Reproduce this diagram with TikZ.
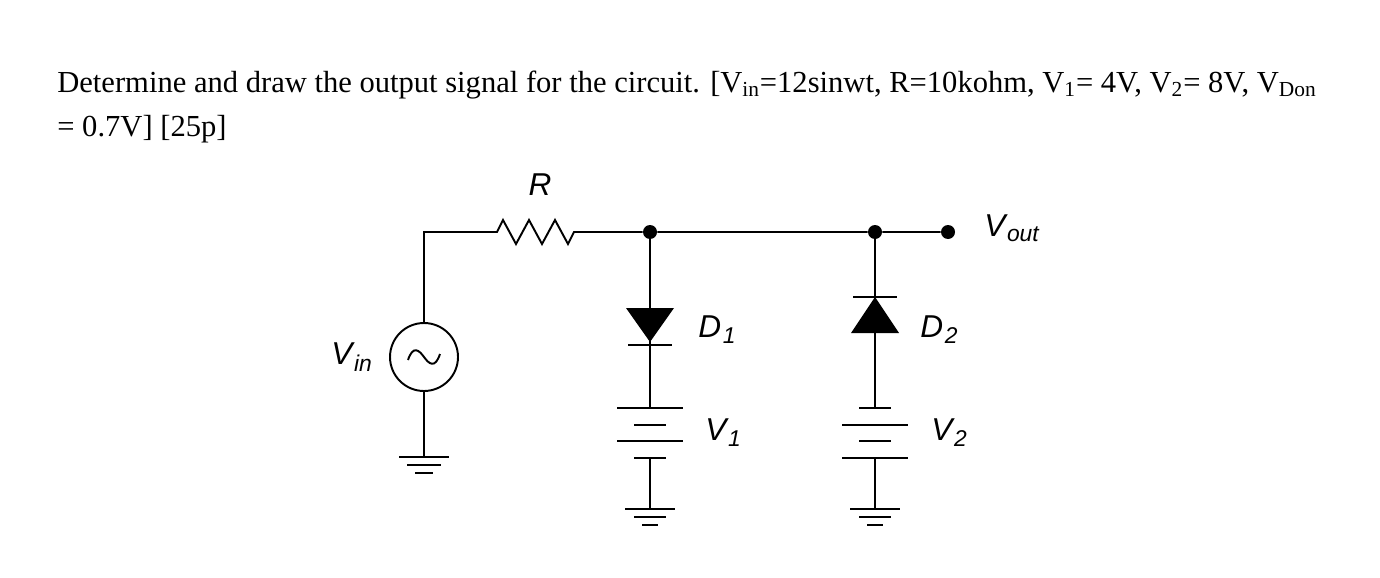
\documentclass[tikz,border=0pt]{standalone}
\usepackage{fontspec}
\setmainfont{Liberation Serif}
\newfontfamily\lbl{Liberation Sans}
\begin{document}
\begin{tikzpicture}[x=0.02cm,y=-0.02cm,
  wire/.style={line width=1.1pt,black},
  dot/.style={circle,fill=black,inner sep=0pt,minimum size=0.28cm},
  lab/.style={font=\lbl\itshape\fontsize{18}{21}\selectfont,inner sep=0pt},
  sub/.style={font=\lbl\itshape\fontsize{13}{15}\selectfont,inner sep=0pt,anchor=north west},
  title/.style={font=\fontsize{17.4}{20}\selectfont,anchor=base west,inner sep=0pt}]
\useasboundingbox (0,0) rectangle (1380,578);
\node[title] (t1) at (57,92) {Determine and draw the output signal for the circuit. [V\textsubscript{in}=12sinwt, R=10kohm, V\textsubscript{1}= 4V, V\textsubscript{2}= 8V, V\textsubscript{Don}};
\node[title] (t2) at (57,136) {= 0.7V] [25p]};
% nodes
\coordinate (c) at (424,232);
\node[dot] (n1) at (650,232) {};
\node[dot] (n2) at (875,232) {};
\node[dot] (out) at (948,232) {};
\node[draw,circle,line width=1.1pt,minimum size=1.36cm,inner sep=0pt] (src) at (424,357) {};
\draw[line width=1.1pt] (408,360) .. controls (413,345) and (419,350) .. (424,357) .. controls (429,364) and (435,369) .. (440,354);
% top wire with resistor
\draw[wire] (src.north) -- (c) -- (497,232) -- (503,220) -- (516,244) -- (529,220) -- (542,244) -- (555,220) -- (568,244) -- (574,232) -- (n1) -- (n2) -- (out);
% source ground
\draw[wire] (src.south) -- (424,457);
\draw[wire] (399,457) -- (449,457) (407,465) -- (441,465) (415,473) -- (433,473);
% D1 and V1
\draw[wire] (n1) -- (650,408);
\fill (626,308) -- (674,308) -- (650,342) -- cycle;
\draw[wire] (628,345) -- (672,345);
\draw[wire] (617,408) -- (683,408) (634,425) -- (666,425) (617,441) -- (683,441) (634,458) -- (666,458);
\draw[wire] (650,458) -- (650,509);
\draw[wire] (625,509) -- (675,509) (634,517) -- (666,517) (642,525) -- (658,525);
% D2 and V2
\draw[wire] (n2) -- (875,408);
\fill (851,333) -- (899,333) -- (875,297) -- cycle;
\draw[wire] (853,297) -- (897,297);
\draw[wire] (859,408) -- (891,408) (842,425) -- (908,425) (859,441) -- (891,441) (842,458) -- (908,458);
\draw[wire] (875,458) -- (875,509);
\draw[wire] (850,509) -- (900,509) (859,517) -- (891,517) (867,525) -- (883,525);
% labels
\node[lab] (lR) at (540,185) {R};
\node[lab,anchor=west] (lout) at (984,226) {V};
\node[sub] at (lout.south east) [xshift=0.5pt,yshift=6pt] {out};
\node[lab,anchor=west] (lin) at (331,354) {V};
\node[sub] at (lin.south east) [xshift=0.5pt,yshift=6pt] {in};
\node[lab,anchor=west] (lD1) at (698,327) {D};
\node[sub] at (lD1.south east) [xshift=0.5pt,yshift=6pt] {1};
\node[lab,anchor=west] (lV1) at (705,430) {V};
\node[sub] at (lV1.south east) [xshift=0.5pt,yshift=6pt] {1};
\node[lab,anchor=west] (lD2) at (920,327) {D};
\node[sub] at (lD2.south east) [xshift=0.5pt,yshift=6pt] {2};
\node[lab,anchor=west] (lV2) at (931,430) {V};
\node[sub] at (lV2.south east) [xshift=0.5pt,yshift=6pt] {2};
\end{tikzpicture}
\end{document}
